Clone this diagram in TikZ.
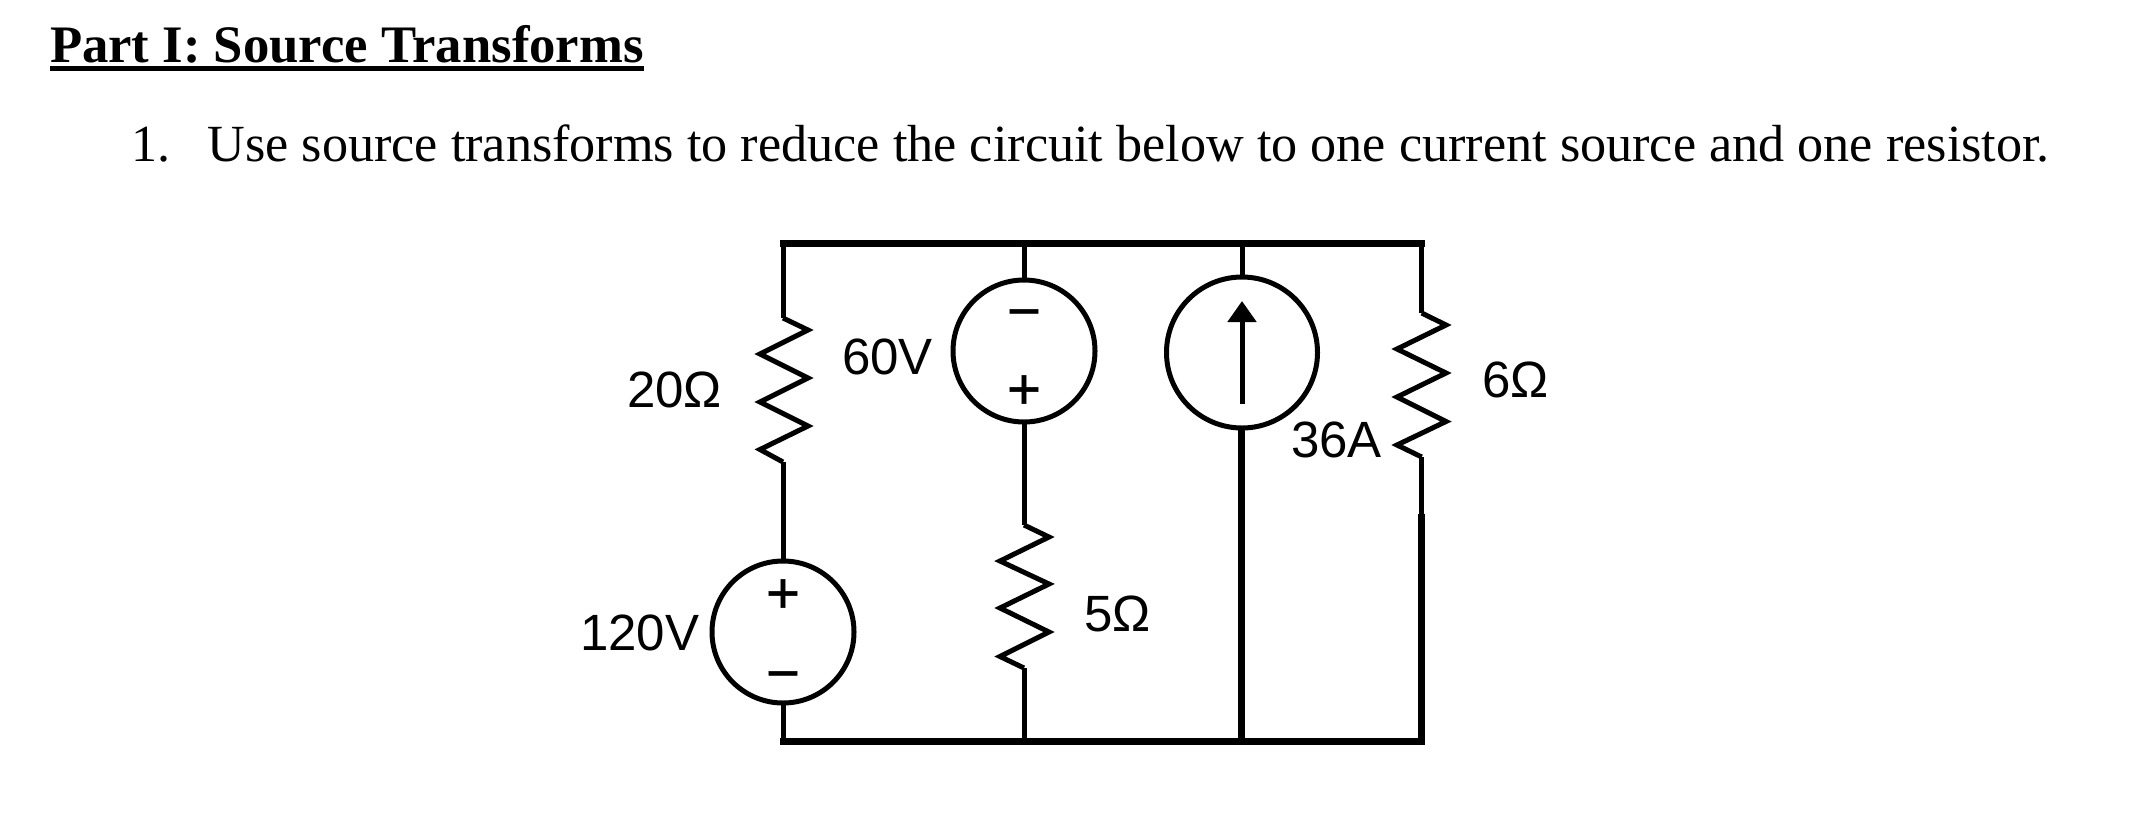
\documentclass[tikz,border=0pt]{standalone}
\usepackage{fontspec}
\setmainfont{Liberation Serif}
\newfontfamily\labelfont{Liberation Sans}
\newfontfamily\signfont[FakeBold=0.8]{Liberation Sans}
\usetikzlibrary{arrows.meta}
\tikzset{
  wire/.style={line width=5pt,black},
  rail/.style={line width=7pt,black,line cap=rect},
  heavy/.style={line width=7pt,black},
  zig/.style={line width=5pt,black,line join=miter},
  src/.style={circle,draw=black,line width=5pt,inner sep=0pt,outer sep=0pt},
  volt/.style={src,minimum size=142pt},
  amp/.style={src,minimum size=151pt},
  lbl/.style={inner sep=0pt,outer sep=0pt,anchor=base west,font=\labelfont\fontsize{51}{60}\selectfont},
  sign/.style={inner sep=0pt,outer sep=0pt,font=\signfont\fontsize{58}{60}\selectfont},
  head/.style={inner sep=0pt,outer sep=0pt,anchor=base west,font=\bfseries\fontsize{52.7}{60}\selectfont},
  body/.style={inner sep=0pt,outer sep=0pt,anchor=base west,font=\fontsize{52.2}{60}\selectfont}
}
\begin{document}
\begin{tikzpicture}[x=1pt,y=-1pt]
\useasboundingbox[fill=white] (0,0) rectangle (2142,820);
% text
\node[head] (title) at (50,62.5) {Part I: Source Transforms};
\draw[line width=5.6pt] (title.base west) ++(0,6) coordinate (ula) (title.base east) ++(0,6) coordinate (ulb) (ula) -- (ulb);
\node[body] (num) at (131,161) {1.};
\node[body] (task) at (207.5,161) {Use source transforms to reduce the circuit below to one current source and one resistor.};
% junctions
\coordinate (tl) at (783,243);
\coordinate (tm) at (1024,243);
\coordinate (tc) at (1242,243);
\coordinate (tr) at (1421.7,243);
\coordinate (bl) at (783,741);
\coordinate (bm) at (1024,741);
\coordinate (bc) at (1241,741);
\coordinate (br) at (1421.7,741);
\coordinate (rs) at (1421.7,513.7);
% sources
\node[volt] (v120) at (783,632) {};
\node[volt] (v60) at (1024,351) {};
\node[amp] (i36) at (1242,352.5) {};
% resistor ends
\coordinate (r20a) at (783,318);
\coordinate (r20b) at (783,462);
\coordinate (r5a) at (1024,525);
\coordinate (r5b) at (1024,668);
\coordinate (r6a) at (1421.7,313);
\coordinate (r6b) at (1421.7,457);
% resistors
\draw[zig] (r20a) -- (808,330) -- (760,354) -- (808,378) -- (760,402) -- (808,426) -- (760,449.5) -- (r20b);
\draw[zig] (r5a) -- (1049,537) -- (1000,561) -- (1049,584) -- (1000,608) -- (1049,632) -- (1000,656.5) -- (r5b);
\draw[zig] (r6a) -- (1446,325) -- (1397,349) -- (1446,373) -- (1397,397) -- (1446,421.5) -- (1397,445) -- (r6b);
% wires
\draw[wire] (tl) -- (r20a);
\draw[wire] (r20b) -- (v120.north);
\draw[wire] (v120.south) -- (bl);
\draw[wire] (tm) -- (v60.north);
\draw[wire] (v60.south) -- (r5a);
\draw[wire] (r5b) -- (bm);
\draw[wire] (tc) -- (i36.north);
\draw[heavy] (bc |- i36.south) coordinate (i36s) -- (bc);
\draw[wire] (tr) -- (r6a);
\draw[wire] (r6b) -- (rs);
\draw[heavy] (rs) -- (br);
\draw[rail] (tl) -- (tr);
\draw[rail] (bl) -- (br);
% arrow in current source
\coordinate (ia) at (1242,404);
\coordinate (ib) at (1242,301);
\draw[wire,-{Triangle[width=28pt,length=21pt]}] (ia) -- (ib);
% signs
\node[sign] (p120) at (783,596) {+};
\node[sign] (m120) at (783,682) {−};
\node[sign] (m60) at (1024,320) {−};
\node[sign] (p60) at (1024,392) {+};
% labels
\node[lbl] (l20) at (627,407.5) {20Ω};
\node[lbl] (l60) at (842,374.5) {60V};
\node[lbl] (l120) at (580,650) {120V};
\node[lbl] (l5) at (1084,631.5) {5Ω};
\node[lbl] (l36) at (1291,457.5) {36A};
\node[lbl] (l6) at (1482,397) {6Ω};
\end{tikzpicture}
\end{document}
